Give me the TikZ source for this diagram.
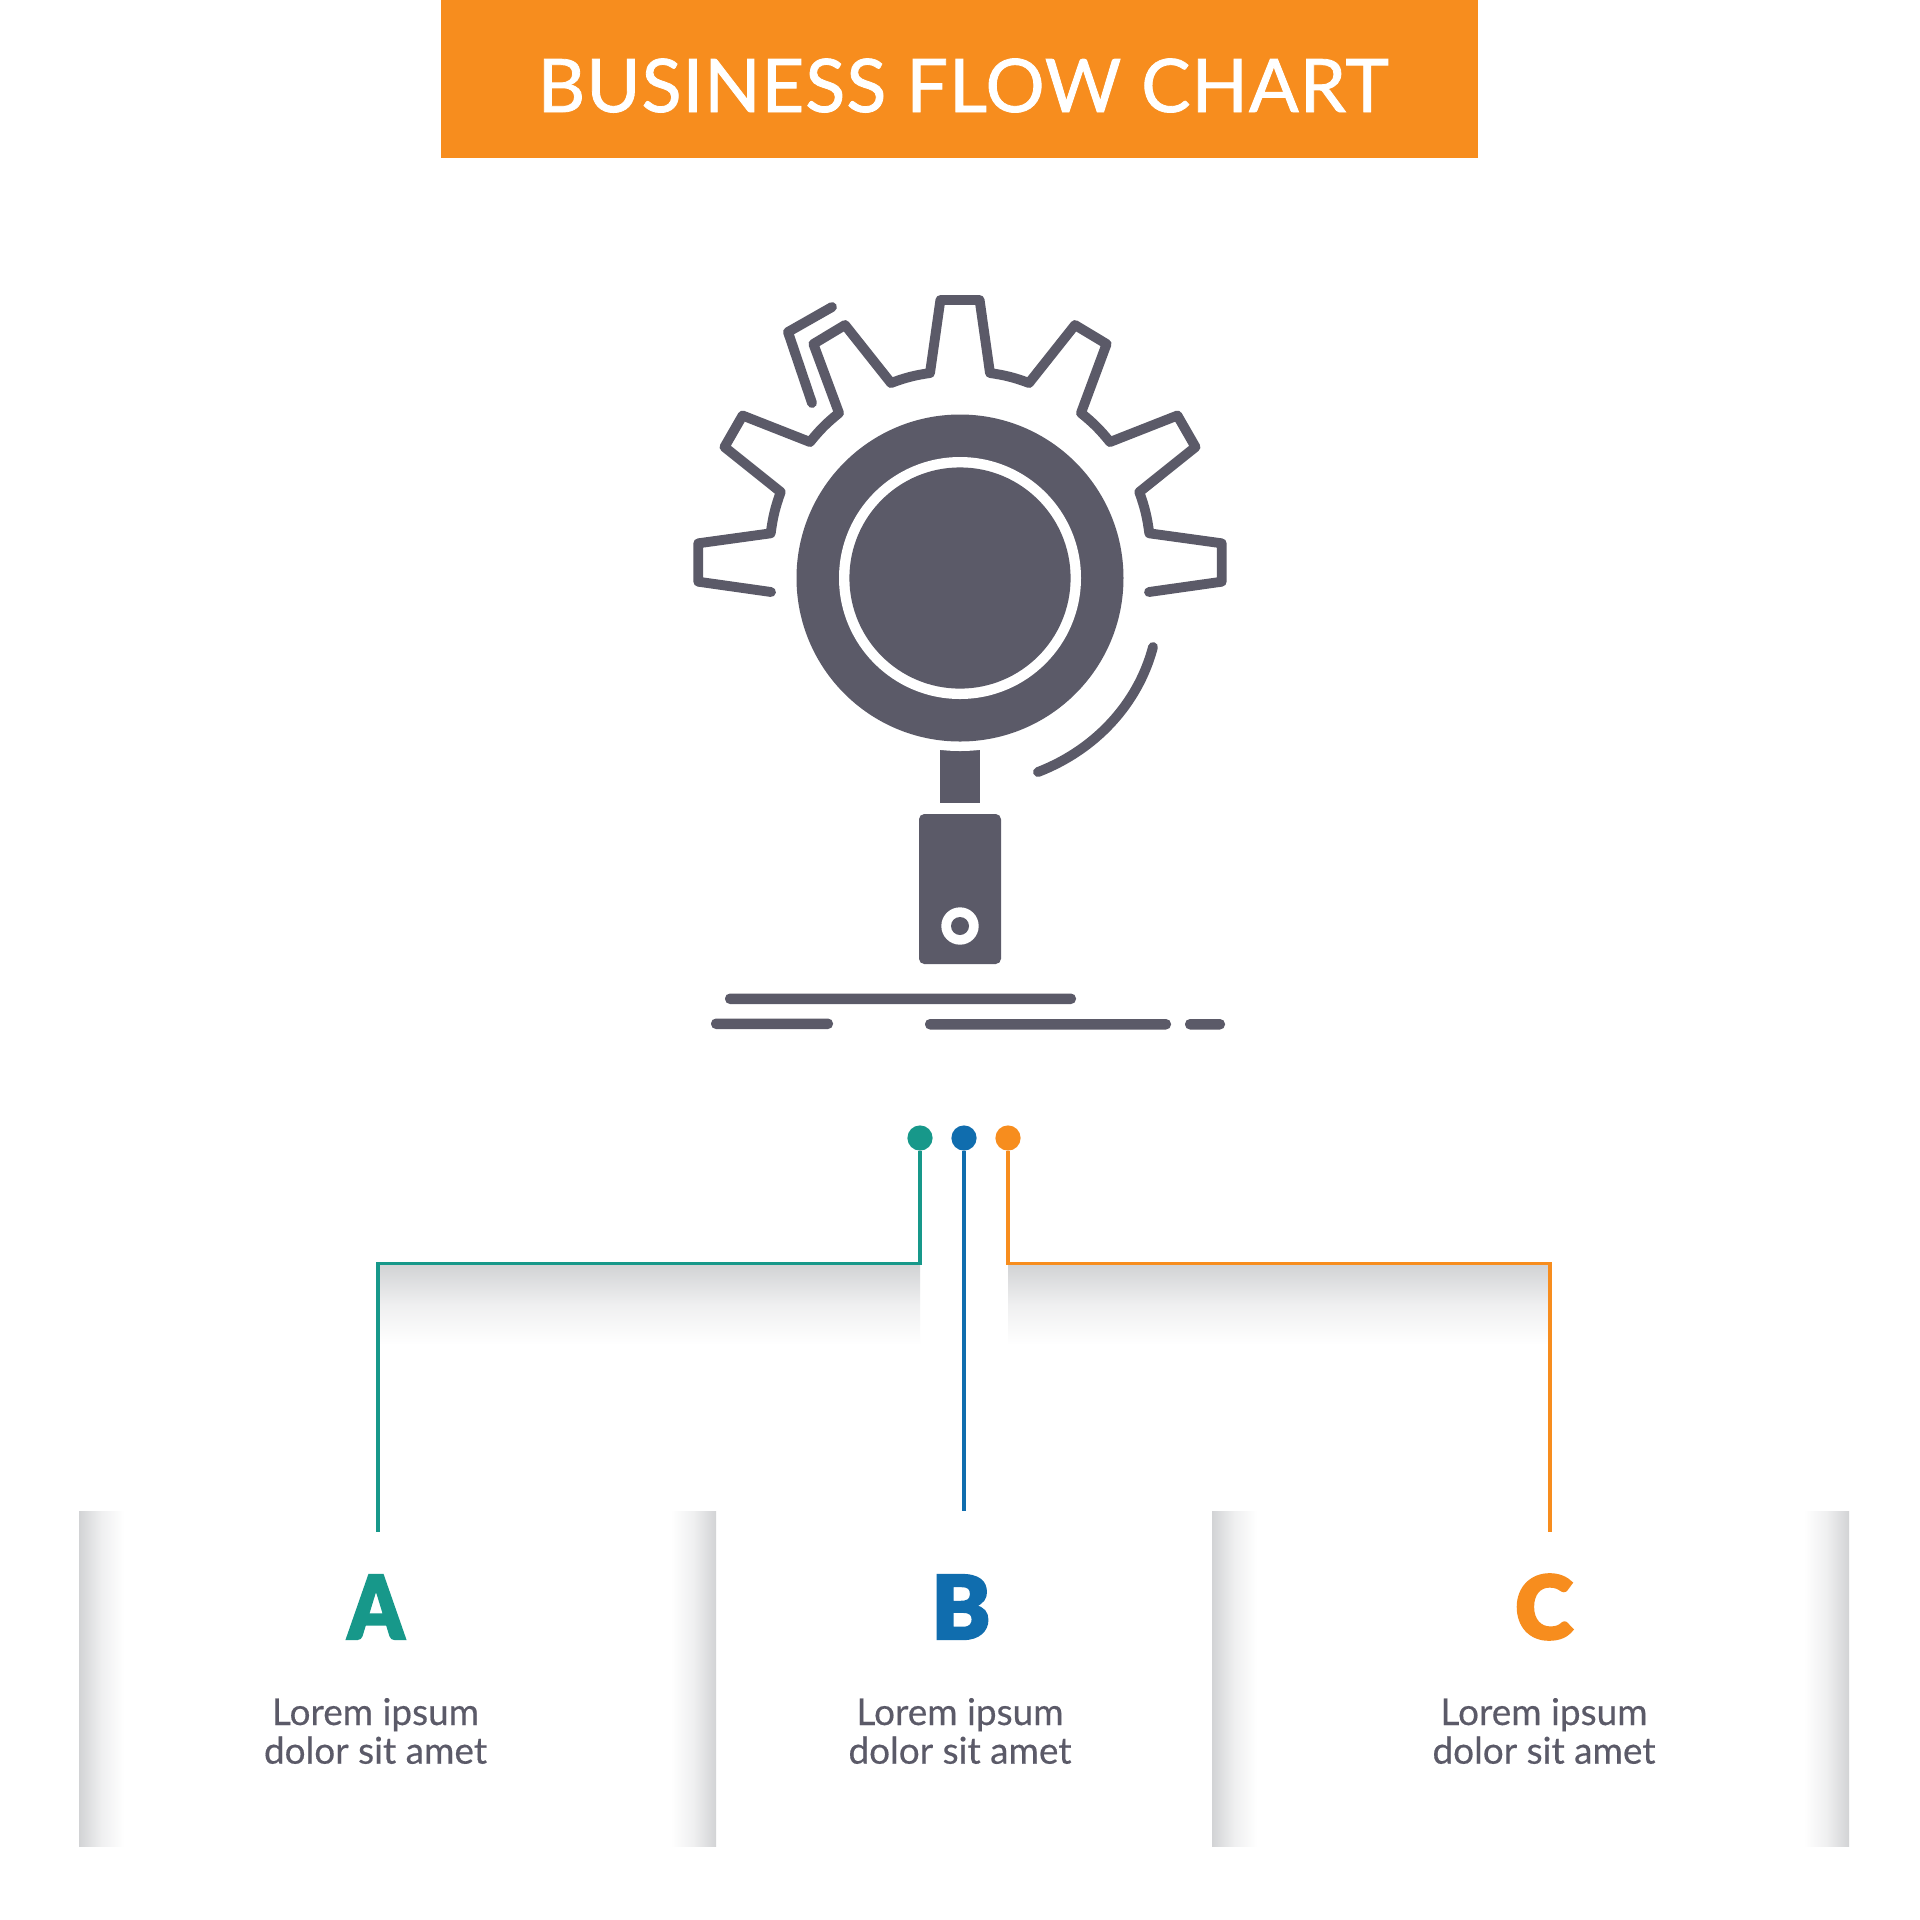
\documentclass[tikz,border=0pt]{standalone}
\usepackage{fontspec}
\setmainfont{Lato}
\newfontfamily\heavyfont[FakeBold=2.5]{Lato Black}
\newfontfamily\titlefont[FakeBold=1.1,LetterSpace=1.3]{Lato}
\newfontfamily\bodyfont[FakeBold=0.4]{Lato}
\usetikzlibrary{positioning}
\definecolor{iconcol}{HTML}{5B5A68}
\definecolor{tealcol}{HTML}{17988A}
\definecolor{bluecol}{HTML}{106DAE}
\definecolor{orangecol}{HTML}{F78D1E}
\definecolor{shadecol}{HTML}{D2D3D5}
\tikzset{
    gearline/.style = {draw = iconcol, line width = 2.8pt, line cap = round, line join = round},
    groundbar/.style = {fill = iconcol, rounded corners = 1.4pt},
    flowline/.style = {line width = 1pt},
    dotnode/.style = {circle, inner sep = 0pt, minimum size = 0.252cm},
    letternode/.style = {font = \heavyfont\fontsize{25}{25}\selectfont, anchor = base},
    bodytext/.style = {text = iconcol, align = center, font = \bodyfont\fontsize{10.5}{11}\selectfont},
    downshade/.style = {top color = shadecol, bottom color = white, middle color = shadecol!35},
    rightshade/.style = {left color = shadecol, right color = white, middle color = shadecol!35},
    leftshade/.style = {left color = white, right color = shadecol, middle color = shadecol!35},
}
\begin{document}
\begin{tikzpicture}[x = 0.01cm, y = -0.01cm]
    \useasboundingbox (0,0) rectangle (1920,1920);
    \fill[white] (0,0) rectangle (1920,1920);

    % banner
    \fill[orangecol] (441,0) rectangle (1478,158);
    \node[anchor = base, text = white, font = \titlefont\fontsize{21}{21}\selectfont] (title) at (963,112) {BUSINESS FLOW CHART};

    % shadows
    \shade[downshade] (378,1265) rectangle (920,1345);
    \shade[downshade] (1008,1265) rectangle (1550,1345);
    \shade[rightshade] (79,1511) rectangle (124,1846);
    \shade[leftshade] (671,1511) rectangle (716,1846);
    \shade[rightshade] (1212,1511) rectangle (1257,1846);
    \shade[leftshade] (1804,1511) rectangle (1849,1846);

    % gear
    \draw[gearline] (1149,592) -- (1221.7,581.7) -- (1221.7,543.3) -- (1149.3,533.3)
        to[bend right = 6] (1139.3,492) -- (1195.5,447) -- (1177.4,415.5) -- (1110,442)
        to[bend right = 6] (1081,413) -- (1106.6,344) -- (1075,325) -- (1029,383)
        to[bend right = 6] (990,373) -- (979.6,300) -- (940.4,300) -- (930,373)
        to[bend right = 6] (891,383) -- (845,325) -- (813.4,344) -- (839,413)
        to[bend right = 6] (810,442) -- (742.6,415.5) -- (724.5,447) -- (780.7,492)
        to[bend right = 6] (770.7,533.3) -- (698.3,543.3) -- (698.3,581.7) -- (771,592);
    \draw[gearline] (832,307) -- (788,332) -- (812,403);
    \draw[gearline] (1153,647) .. controls (1138,704) and (1095,750) .. (1038,772);

    % lens and handle
    \fill[iconcol] (940,745) rectangle (980,803);
    \fill[white] (960,578) circle[radius = 173];
    \fill[iconcol] (960,578) circle[radius = 163.5];
    \fill[white] (960,578) circle[radius = 121];
    \fill[iconcol] (960,578) circle[radius = 110.6];
    \fill[iconcol, rounded corners = 1.5pt] (919,814) rectangle (1001,964);
    \fill[white] (960,926) circle[radius = 18.7];
    \fill[iconcol] (960,926) circle[radius = 9];

    % ground
    \fill[groundbar] (725,993.5) rectangle (1076,1004);
    \fill[groundbar] (711,1018.5) rectangle (833,1029);
    \fill[groundbar] (925,1019) rectangle (1171,1029.5);
    \fill[groundbar] (1185,1019) rectangle (1225,1029.5);

    % connectors
    \node[dotnode, fill = tealcol] (dota) at (920,1138) {};
    \node[dotnode, fill = bluecol] (dotb) at (964,1138) {};
    \node[dotnode, fill = orangecol] (dotc) at (1008,1138) {};
    \coordinate (cornera) at (378,1263.5);
    \coordinate (enda) at (378,1532);
    \coordinate (endb) at (964,1511);
    \coordinate (cornerc) at (1550,1263.5);
    \coordinate (endc) at (1550,1532);
    \draw[flowline, tealcol] (dota) |- (cornera) -- (enda);
    \draw[flowline, bluecol] (dotb) -- (endb);
    \draw[flowline, orangecol] (dotc) |- (cornerc) -- (endc);

    % labels
    \node[letternode, text = tealcol] (lettera) at (376,1639) {\scalebox{0.9}[1]{A}};
    \node[letternode, text = bluecol] (letterb) at (961,1639) {B};
    \node[letternode, text = orangecol] (letterc) at (1544,1639) {C};
    \node[bodytext] (texta) at (375.5,1731) {Lorem ipsum\\dolor sit amet};
    \node[bodytext] (textb) at (960,1731) {Lorem ipsum\\dolor sit amet};
    \node[bodytext] (textc) at (1544,1731) {Lorem ipsum\\dolor sit amet};
\end{tikzpicture}
\end{document}
